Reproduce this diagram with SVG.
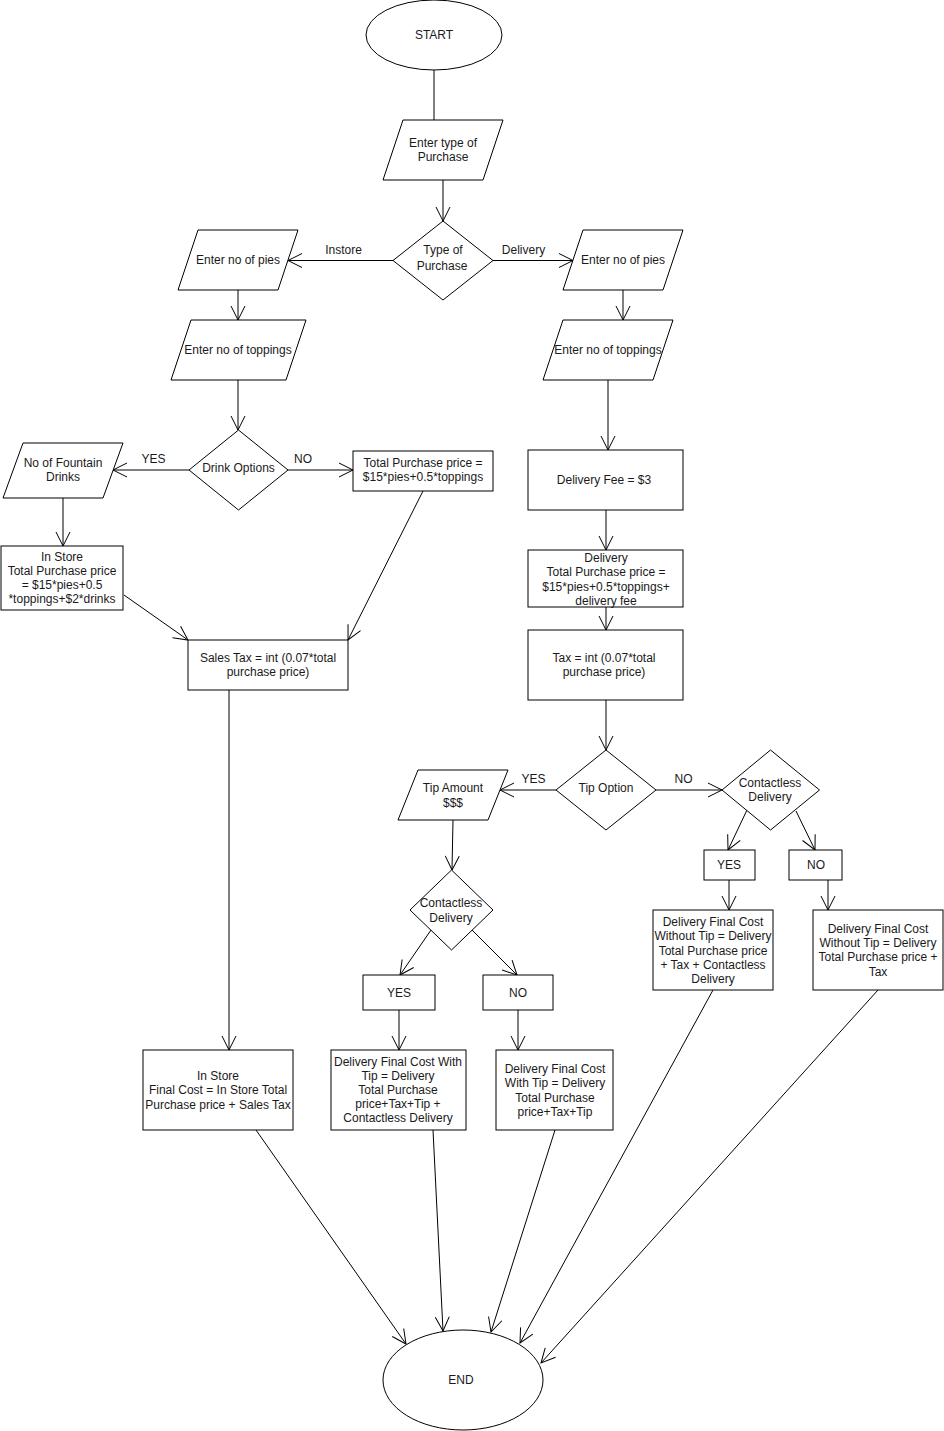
<svg xmlns="http://www.w3.org/2000/svg" width="944" height="1431" viewBox="0 0 944 1431">
<style>
.s{fill:#fff;stroke:#000;stroke-width:1}
.t{font-family:"Liberation Sans",Arial,sans-serif;font-size:12px;fill:#1a1a1a;text-anchor:middle}
.c{fill:none;stroke:#000;stroke-width:1}
.a{marker-end:url(#arr)}
</style>
<defs>
<marker id="arr" markerUnits="userSpaceOnUse" markerWidth="16" markerHeight="16" viewBox="0 0 16 16" refX="15" refY="8" orient="auto">
<path d="M1,1 L15,8 L1,15" fill="none" stroke="#000" stroke-width="1"/>
</marker>
</defs>
<rect width="944" height="1431" fill="#fff"/>
<g id="connectors">
<path class="c" d="M434,70 L434,120"/>
<path class="c a" d="M443,180 L443,221"/>
<path class="c a" d="M393,260.5 L288,260.5"/>
<path class="c a" d="M493,260.5 L573,260.5"/>
<path class="c a" d="M238,290 L238,320"/>
<path class="c a" d="M623,290 L623,320"/>
<path class="c a" d="M238,380 L238,430"/>
<path class="c a" d="M608,380 L608,450"/>
<path class="c a" d="M189,470 L113,470"/>
<path class="c a" d="M288,470 L353,470"/>
<path class="c a" d="M63,498 L63,546"/>
<path class="c a" d="M124,595 L188,640"/>
<path class="c a" d="M423,491 L348,640"/>
<path class="c a" d="M229,690 L229,1050"/>
<path class="c a" d="M606,510 L606,550"/>
<path class="c a" d="M606,607 L606,630"/>
<path class="c a" d="M606,700 L606,750"/>
<path class="c a" d="M556,790 L500,790"/>
<path class="c a" d="M656,790 L722,790"/>
<path class="c a" d="M747,810 L728,850"/>
<path class="c a" d="M796,811 L815,850"/>
<path class="c a" d="M729,880 L729,910"/>
<path class="c a" d="M828,880 L828,910"/>
<path class="c a" d="M453,820 L452,870"/>
<path class="c a" d="M431,930 L400,975"/>
<path class="c a" d="M472,930 L517,975"/>
<path class="c a" d="M399,1010 L399,1050"/>
<path class="c a" d="M518,1010 L518,1050"/>
<path class="c a" d="M256,1130 L406,1344"/>
<path class="c a" d="M433,1130 L443,1331"/>
<path class="c a" d="M555,1130 L491,1332"/>
<path class="c a" d="M713,990 L520,1343"/>
<path class="c a" d="M878,990 L541,1363"/>
<text class="t" x="343.5" y="254">Instore</text>
<text class="t" x="523.5" y="254">Delivery</text>
<text class="t" x="153.5" y="463">YES</text>
<text class="t" x="303" y="463">NO</text>
<text class="t" x="533.5" y="783">YES</text>
<text class="t" x="683.5" y="783">NO</text>
</g>
<g id="start">
<ellipse class="s" cx="434" cy="35" rx="68" ry="35"/>
<text class="t" x="434" y="39">START</text>
</g>
<g id="enter_type">
<polygon class="s" points="403,120 503,120 483,180 383,180"/>
<text class="t" x="443" y="147">Enter type of</text>
<text class="t" x="443" y="161">Purchase</text>
</g>
<g id="type_decision">
<polygon class="s" points="443,221 493,260.5 443,300 393,260.5"/>
<text class="t" x="443" y="254">Type of</text>
<text class="t" x="442" y="270">Purchase</text>
</g>
<g id="pies_instore">
<polygon class="s" points="198,230 298,230 278,290 178,290"/>
<text class="t" x="238" y="264">Enter no of pies</text>
</g>
<g id="pies_delivery">
<polygon class="s" points="583,230 683,230 663,290 563,290"/>
<text class="t" x="623" y="264">Enter no of pies</text>
</g>
<g id="toppings_instore">
<polygon class="s" points="191,320 306,320 286,380 171,380"/>
<text class="t" x="238" y="354">Enter no of toppings</text>
</g>
<g id="toppings_delivery">
<polygon class="s" points="563,320 673,320 653,380 543,380"/>
<text class="t" x="608" y="354">Enter no of toppings</text>
</g>
<g id="drink_options">
<polygon class="s" points="238.5,430 288,470 238.5,510 189,470"/>
<text class="t" x="238.5" y="471.5">Drink Options</text>
</g>
<g id="fountain_drinks">
<polygon class="s" points="23,443 123,443 103,498 3,498"/>
<text class="t" x="63" y="467">No of Fountain</text>
<text class="t" x="63" y="481">Drinks</text>
</g>
<g id="instore_total">
<rect class="s" x="1" y="546" width="122" height="64"/>
<text class="t" x="62" y="561">In Store</text>
<text class="t" x="62" y="575">Total Purchase price</text>
<text class="t" x="62" y="589">= $15*pies+0.5</text>
<text class="t" x="62" y="603">*toppings+$2*drinks</text>
</g>
<g id="nodrink_total">
<rect class="s" x="353" y="451" width="140" height="40"/>
<text class="t" x="423" y="467">Total Purchase price =</text>
<text class="t" x="423" y="481">$15*pies+0.5*toppings</text>
</g>
<g id="sales_tax">
<rect class="s" x="188" y="640" width="160" height="50"/>
<text class="t" x="268" y="662">Sales Tax = int (0.07*total</text>
<text class="t" x="268" y="676">purchase price)</text>
</g>
<g id="instore_final">
<rect class="s" x="143" y="1050" width="150" height="80"/>
<text class="t" x="218" y="1080">In Store</text>
<text class="t" x="218" y="1094">Final Cost = In Store Total</text>
<text class="t" x="218" y="1109">Purchase price + Sales Tax</text>
</g>
<g id="delivery_fee">
<rect class="s" x="528" y="450" width="155" height="60"/>
<text class="t" x="604" y="484">Delivery Fee = $3</text>
</g>
<g id="delivery_total">
<rect class="s" x="528" y="550" width="155" height="57"/>
<text class="t" x="606" y="562">Delivery</text>
<text class="t" x="606" y="576">Total Purchase price =</text>
<text class="t" x="606" y="591">$15*pies+0.5*toppings+</text>
<text class="t" x="606" y="605">delivery fee</text>
</g>
<g id="delivery_tax">
<rect class="s" x="528" y="630" width="155" height="70"/>
<text class="t" x="604" y="662">Tax = int (0.07*total</text>
<text class="t" x="604" y="676">purchase price)</text>
</g>
<g id="tip_option">
<polygon class="s" points="606,750 656,790 606,830 556,790"/>
<text class="t" x="606" y="792">Tip Option</text>
</g>
<g id="tip_amount">
<polygon class="s" points="418,770 508,770 488,820 398,820"/>
<text class="t" x="453" y="792">Tip Amount</text>
<text class="t" x="453" y="807">$$$</text>
</g>
<g id="contactless_notip">
<polygon class="s" points="770.5,750 819.5,790 770.5,830 722,790"/>
<text class="t" x="770" y="787">Contactless</text>
<text class="t" x="770" y="801">Delivery</text>
</g>
<g id="yes_notip">
<rect class="s" x="704" y="850" width="51" height="30"/>
<text class="t" x="729" y="869">YES</text>
</g>
<g id="no_notip">
<rect class="s" x="789" y="850" width="53" height="30"/>
<text class="t" x="816" y="869">NO</text>
</g>
<g id="final_notip_contactless">
<rect class="s" x="653" y="910" width="120" height="80"/>
<text class="t" x="713" y="926">Delivery Final Cost</text>
<text class="t" x="713" y="940">Without Tip = Delivery</text>
<text class="t" x="713" y="955">Total Purchase price</text>
<text class="t" x="713" y="969">+ Tax + Contactless</text>
<text class="t" x="713" y="983">Delivery</text>
</g>
<g id="final_notip">
<rect class="s" x="813" y="910" width="130" height="80"/>
<text class="t" x="878" y="933">Delivery Final Cost</text>
<text class="t" x="878" y="947">Without Tip = Delivery</text>
<text class="t" x="878" y="961">Total Purchase price +</text>
<text class="t" x="878" y="976">Tax</text>
</g>
<g id="contactless_tip">
<polygon class="s" points="451.5,870 493,910 451.5,950 410,910"/>
<text class="t" x="451" y="907">Contactless</text>
<text class="t" x="451" y="922">Delivery</text>
</g>
<g id="yes_tip">
<rect class="s" x="363" y="975" width="72" height="35"/>
<text class="t" x="399" y="997">YES</text>
</g>
<g id="no_tip">
<rect class="s" x="483" y="975" width="70" height="35"/>
<text class="t" x="518" y="997">NO</text>
</g>
<g id="final_tip_contactless">
<rect class="s" x="331" y="1050" width="135" height="80"/>
<text class="t" x="398" y="1066">Delivery Final Cost With</text>
<text class="t" x="398" y="1080">Tip = Delivery</text>
<text class="t" x="398" y="1094">Total Purchase</text>
<text class="t" x="398" y="1108">price+Tax+Tip +</text>
<text class="t" x="398" y="1122">Contactless Delivery</text>
</g>
<g id="final_tip">
<rect class="s" x="496" y="1050" width="117" height="80"/>
<text class="t" x="555" y="1073">Delivery Final Cost</text>
<text class="t" x="555" y="1087">With Tip = Delivery</text>
<text class="t" x="555" y="1102">Total Purchase</text>
<text class="t" x="555" y="1116">price+Tax+Tip</text>
</g>
<g id="end">
<ellipse class="s" cx="463" cy="1380" rx="80" ry="50"/>
<text class="t" x="461" y="1384">END</text>
</g>
</svg>
